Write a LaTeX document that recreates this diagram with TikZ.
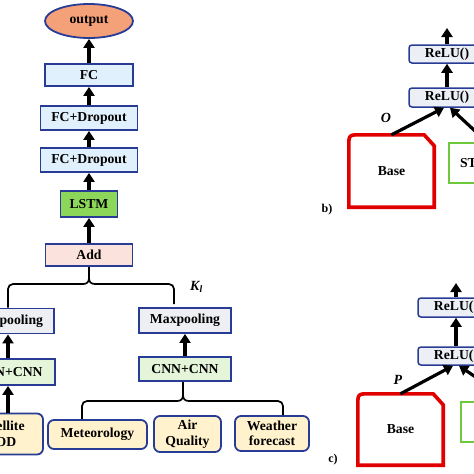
\documentclass[tikz,border=0pt]{standalone}
\usepackage{fontspec}
\setmainfont{Liberation Serif}
\usetikzlibrary{shapes.geometric,arrows.meta}
\definecolor{bblue}{RGB}{40,60,150}
\definecolor{outfill}{RGB}{244,160,120}
\definecolor{fcfill}{RGB}{224,240,252}
\definecolor{lstmfill}{RGB}{140,215,90}
\definecolor{addfill}{RGB}{252,226,220}
\definecolor{mpfill}{RGB}{238,239,242}
\definecolor{cnnfill}{RGB}{228,245,218}
\definecolor{infill}{RGB}{255,242,204}
\definecolor{relufill}{RGB}{236,240,246}
\definecolor{basered}{RGB}{225,0,0}
\definecolor{stlgreen}{RGB}{110,200,60}
\newcommand\myfs{\fontsize{13.7}{15.5}\selectfont\bfseries}
\begin{document}
\begin{tikzpicture}[x=1pt,y=-1pt,
  box/.style={draw=bblue, line width=1.8pt, inner sep=0pt, font=\myfs, align=center},
  inbox/.style={box, fill=infill, rounded corners=6pt},
  relu/.style={draw=bblue, line width=1.5pt, inner sep=0pt, font=\myfs, fill=relufill, rounded corners=3pt, minimum width=76pt},
  arr/.style={line width=3.2pt, -{Triangle[length=9pt,width=11pt]}},
  lw/.style={line width=1.7pt},
  redline/.style={draw=basered, line width=3.6pt, line join=miter},
  lab/.style={inner sep=0pt, font=\fontsize{14}{16}\selectfont\bfseries\itshape},
  panel/.style={inner sep=0pt, font=\fontsize{12}{14}\selectfont\bfseries}]
\useasboundingbox (0,0) rectangle (474,474);
\fill[white] (0,0) rectangle (474,474);
\clip (0,0) rectangle (474,474);

% main column
\node[box, ellipse, fill=outfill, minimum width=88pt, minimum height=34pt] (out) at (89,21) {output};
\node[box, fill=fcfill, minimum width=88pt, minimum height=22pt] (fc) at (89,75) {FC};
\node[box, fill=fcfill, minimum width=97pt, minimum height=24pt] (fd1) at (89,118) {FC+Dropout};
\node[box, fill=fcfill, minimum width=97pt, minimum height=24pt] (fd2) at (89,160) {FC+Dropout};
\node[box, fill=lstmfill, minimum width=57pt, minimum height=26pt] (lstm) at (89,204) {LSTM};
\node[box, fill=addfill, minimum width=87pt, minimum height=22pt] (add) at (89,255) {Add};
\draw[arr] (fc) -- (out);
\draw[arr] (fd1) -- (fc);
\draw[arr] (fd2) -- (fd1);
\draw[arr] (lstm) -- (fd2);
\draw[arr] (add) -- (lstm);

% left column
\node[box, fill=mpfill, minimum width=92pt, minimum height=25pt] (mpL) at (8,321) {Maxpooling};
\node[box, fill=cnnfill, minimum width=92pt, minimum height=26pt] (cnnL) at (9,372) {CNN+CNN};
\node[inbox, minimum width=84pt, minimum height=41pt] (sat) at (1,434) {Satellite\\AOD};
\draw[arr] (cnnL.north -| mpL) -- (mpL);
\draw[arr] (sat.north -| mpL) -- (cnnL.south -| mpL);

% right column
\node[box, fill=mpfill, minimum width=92pt, minimum height=25pt] (mpR) at (185,320.5) {Maxpooling};
\node[box, fill=cnnfill, minimum width=92pt, minimum height=24pt] (cnnR) at (185,369) {CNN+CNN};
\node[inbox, minimum width=99pt, minimum height=29pt] (met) at (97.5,434.5) {Meteorology};
\node[inbox, minimum width=67pt, minimum height=36pt] (air) at (187.5,434) {Air\\Quality};
\node[inbox, minimum width=74pt, minimum height=35pt] (wea) at (272,433.5) {Weather\\forecast};
\draw[arr] (cnnR) -- (mpR);

% top brace
\coordinate (c1) at (89,278);
\coordinate (kend) at (174,304);
\draw[lw] (add.south) -- (c1);
\draw[lw, rounded corners=5pt] (mpL.north) |- (83,284);
\draw[lw] (83,284) .. controls (87,284) and (89,282) .. (c1) .. controls (89,282) and (91,284) .. (95,284);
\draw[lw, rounded corners=5pt] (95,284) -| (kend);
\node[lab, anchor=west] (kl) at (190,287) {K\textsubscript{\textit{l}}};

% bottom brace
\coordinate (c2) at (183,395);
\coordinate (m1) at (82,0);
\coordinate (w1) at (283,0);
\draw[lw] (c2 |- cnnR.south) -- (c2);
\draw[lw, rounded corners=5pt] (met.north -| m1) |- (177,401);
\draw[lw] (177,401) .. controls (181,401) and (183,399) .. (c2) .. controls (183,399) and (185,401) .. (189,401);
\draw[lw, rounded corners=5pt] (189,401) -| (wea.north -| w1);

% panel b
\node[relu, minimum height=18pt] (rb2) at (447,54) {ReLU()};
\node[relu, minimum height=19pt] (rb1) at (447,97.5) {ReLU()};
\coordinate (tb) at (447,28);
\draw[arr] (rb2) -- (tb);
\draw[arr] (rb1) -- (rb2);
\node[minimum width=85pt, minimum height=72pt, inner sep=0pt, font=\myfs] (baseB) at (391.5,171) {Base};
\draw[redline] (baseB.south west) -- ([yshift=-12pt]baseB.north west) .. controls (baseB.north west) .. ([xshift=12pt]baseB.north west) -- ([xshift=-10pt]baseB.north east) -- ([yshift=-11pt]baseB.north east) -- (baseB.south east) -- cycle;
\node[draw=stlgreen, line width=1.7pt, minimum width=76pt, minimum height=40pt, text width=54pt, align=left, inner sep=0pt, font=\myfs] (stlB) at (487,163) {ST};
\draw[arr] (baseB.north) -- ([xshift=-3pt]rb1.south);
\draw[arr] (stlB.north) -- ([xshift=3pt]rb1.south);
\node[lab] (O) at (386,118) {O};
\node[panel] (pb) at (327,210) {b)};

% panel c
\node[relu, minimum height=19pt] (rc2) at (456,307.5) {ReLU()};
\node[relu, minimum height=18pt] (rc1) at (456,356) {ReLU()};
\coordinate (tc) at (456,283);
\draw[arr] (rc2) -- (tc);
\draw[arr] (rc1) -- (rc2);
\node[minimum width=85pt, minimum height=71pt, inner sep=0pt, font=\myfs] (baseC) at (400.5,429.5) {Base};
\draw[redline] (baseC.south west) -- ([yshift=-12pt]baseC.north west) .. controls (baseC.north west) .. ([xshift=12pt]baseC.north west) -- ([xshift=-10pt]baseC.north east) -- ([yshift=-11pt]baseC.north east) -- (baseC.south east) -- cycle;
\node[draw=stlgreen, line width=1.7pt, minimum width=100pt, minimum height=40pt, inner sep=0pt] (stlC) at (511,422) {};
\draw[arr] (baseC.north) -- ([xshift=-3pt]rc1.south);
\draw[arr] (stlC.north) -- ([xshift=3pt]rc1.south);
\node[lab] (P) at (398,380) {P};
\node[panel] (pc) at (333,460) {c)};
\end{tikzpicture}
\end{document}
